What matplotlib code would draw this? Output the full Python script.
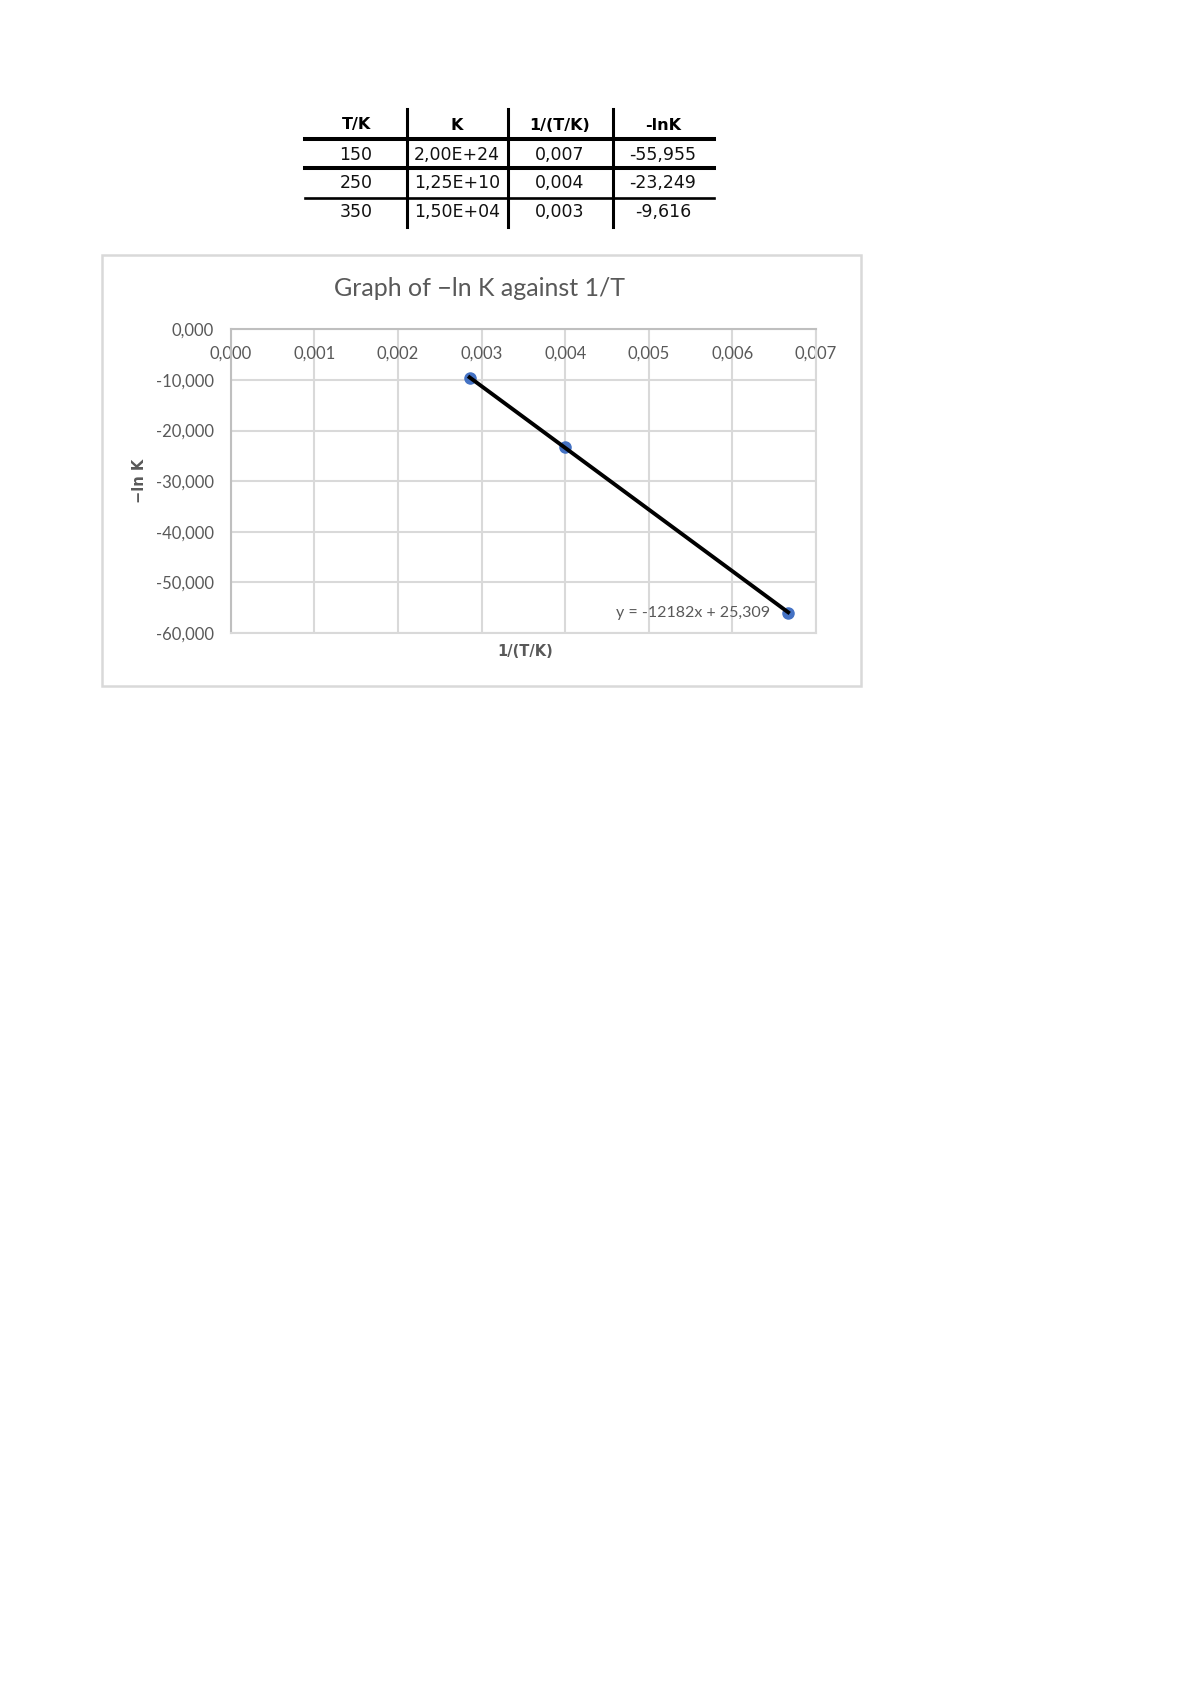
import numpy as np
import matplotlib
matplotlib.use("Agg")
import matplotlib.pyplot as plt
from matplotlib.ticker import FuncFormatter, MultipleLocator
from matplotlib.patches import Rectangle
from matplotlib.lines import Line2D

# table data
col_headers = ["T/K", "K", "1/(T/K)", "-lnK"]
temps = ["150", "250", "350"]
k_values = ["2,00E+24", "1,25E+10", "1,50E+04"]
inv_t_labels = ["0,007", "0,004", "0,003"]
neg_lnk_labels = ["-55,955", "-23,249", "-9,616"]

# chart data
inv_t = [0.006667, 0.004, 0.002857]
neg_lnk = [-55.955, -23.249, -9.616]
slope = -12182
intercept = 25.309
eq_label = "y = -12182x + 25,309"

W, H = 1200, 1696
fig = plt.figure(figsize=(W / 100, H / 100), dpi=100)
plt.rcParams['font.family'] = ['Lato', 'DejaVu Sans']

def fx(px):
    return px / W

def fy(py):
    return 1 - py / H

# ---- table ----
col_x = [356, 457, 560, 663]
row_y = [125, 155, 183, 212]
rows = [temps, k_values, inv_t_labels, neg_lnk_labels]
for j, h in enumerate(col_headers):
    fig.text(fx(col_x[j]), fy(row_y[0]), h, ha='center', va='center',
             fontsize=11.5, fontweight='bold', family=['DejaVu Sans'])
for i in range(3):
    for j in range(4):
        fig.text(fx(col_x[j]), fy(row_y[i + 1]), rows[j][i], ha='center',
                 va='center', fontsize=12.5, family=['DejaVu Sans'], color='#111111')

for y, lw in [(139, 2.9), (168, 2.9), (198, 1.9)]:
    fig.add_artist(Line2D([fx(305), fx(714)], [fy(y), fy(y)], color='black',
                          lw=lw, transform=fig.transFigure))
for x in [407, 508, 613]:
    fig.add_artist(Line2D([fx(x), fx(x)], [fy(109), fy(227)], color='black',
                          lw=2.2, transform=fig.transFigure))

# ---- chart frame ----
fig.add_artist(Rectangle((fx(102), fy(686)), fx(861) - fx(102), fy(255) - fy(686),
                         transform=fig.transFigure, facecolor='none',
                         edgecolor='#D9D9D9', lw=1.8, zorder=-1))

fig.text(fx(480), fy(288), "Graph of \u2212ln K against 1/T", ha='center', va='center',
         fontsize=18, color='#595959')

ax = fig.add_axes([fx(230.7), fy(633), fx(816) - fx(230.7), fy(329.3) - fy(633)])
ax.set_xlim(0, 0.007)
ax.set_ylim(-60, 0)
ax.xaxis.set_major_locator(MultipleLocator(0.001))
ax.yaxis.set_major_locator(MultipleLocator(10))
ax.grid(True, color='#D9D9D9', lw=1.5)
ax.set_axisbelow(True)
for s in ax.spines.values():
    s.set_color('#D9D9D9')
    s.set_linewidth(1.5)
ax.spines['left'].set_color('#BFBFBF')
ax.spines['top'].set_color('#BFBFBF')

ax.xaxis.set_major_formatter(FuncFormatter(lambda v, p: f"{v:.3f}".replace('.', ',')))
ax.yaxis.set_major_formatter(FuncFormatter(lambda v, p: f"{v:.3f}".replace('.', ',').replace('\u2212', '-')))
ax.tick_params(axis='x', top=True, labeltop=True, bottom=False, labelbottom=False,
               length=0, pad=-12, labelsize=12, labelcolor='#595959')
ax.tick_params(axis='y', length=0, pad=12, labelsize=12, labelcolor='#595959')
for lbl in ax.get_xticklabels():
    lbl.set_va('top')

ax.plot(inv_t, neg_lnk, 'o', color='#4472C4', markersize=8, zorder=3)
xs = np.array([min(inv_t), max(inv_t)])
ax.plot(xs, slope * xs + intercept, color='black', lw=2.8, zorder=4)

ax.text(0.00645, -56.0, eq_label, ha='right', va='center', fontsize=11.5, color='#595959')

fig.text(fx(525), fy(652), "1/(T/K)", ha='center', va='center', fontsize=10.5,
         fontweight='bold', color='#595959', family=['DejaVu Sans'])
fig.text(fx(140), fy(481), "\u2212ln K", ha='center', va='center', fontsize=10.5,
         fontweight='bold', color='#595959', rotation=90, family=['DejaVu Sans'])

fig.savefig("out.png", dpi=100)
